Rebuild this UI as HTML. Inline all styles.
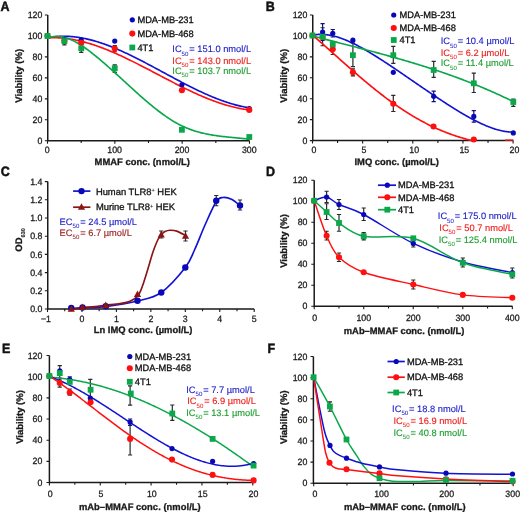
<!DOCTYPE html>
<html><head><meta charset="utf-8"><style>
html,body{margin:0;padding:0;background:#fff;}
svg{display:block;font-family:"Liberation Sans",sans-serif;will-change:transform;filter:blur(0.35px);text-rendering:geometricPrecision;}
</style></head><body>
<svg width="520" height="513" viewBox="0 0 520 513">
<rect width="520" height="513" fill="#fff"/>
<path d="M47.75,15 V140.75 H249.5" stroke="#1a1a1a" stroke-width="1.5" fill="none"/>
<path d="M47.75,140.75 h-2.9 M47.75,119.79 h-2.9 M47.75,98.83 h-2.9 M47.75,77.87 h-2.9 M47.75,56.91 h-2.9 M47.75,35.95 h-2.9 M47.75,14.99 h-2.9 M47.5,140.75 v2.9 M114.83,140.75 v2.9 M182.16,140.75 v2.9 M249.49,140.75 v2.9 M81.16,140.75 v2.32 M148.5,140.75 v2.32 M215.82,140.75 v2.32 " stroke="#1a1a1a" stroke-width="1.1" fill="none"/>
<path d="M312.75,15 V140.6 H513.1" stroke="#1a1a1a" stroke-width="1.5" fill="none"/>
<path d="M312.75,140.6 h-2.9 M312.75,119.67 h-2.9 M312.75,98.73 h-2.9 M312.75,77.8 h-2.9 M312.75,56.86 h-2.9 M312.75,35.93 h-2.9 M312.75,15 h-2.9 M312.5,140.6 v2.9 M362.65,140.6 v2.9 M412.8,140.6 v2.9 M462.95,140.6 v2.9 M513.1,140.6 v2.9 M337.57,140.6 v2.32 M387.73,140.6 v2.32 M437.88,140.6 v2.32 M488.02,140.6 v2.32 " stroke="#1a1a1a" stroke-width="1.1" fill="none"/>
<path d="M47.75,181.6 V309 H254.2" stroke="#1a1a1a" stroke-width="1.5" fill="none"/>
<path d="M47.75,309 h-2.9 M47.75,290.8 h-2.9 M47.75,272.6 h-2.9 M47.75,254.4 h-2.9 M47.75,236.2 h-2.9 M47.75,218 h-2.9 M47.75,199.8 h-2.9 M47.75,181.6 h-2.9 M47.5,309 v2.9 M81.95,309 v2.9 M116.4,309 v2.9 M150.85,309 v2.9 M185.3,309 v2.9 M219.75,309 v2.9 M254.2,309 v2.9 M64.72,309 v2.32 M99.18,309 v2.32 M133.62,309 v2.32 M168.08,309 v2.32 M202.53,309 v2.32 M236.98,309 v2.32 " stroke="#1a1a1a" stroke-width="1.1" fill="none"/>
<path d="M314.2,180.18 V306.3 H512.5" stroke="#1a1a1a" stroke-width="1.5" fill="none"/>
<path d="M314.2,306.3 h-2.9 M314.2,285.28 h-2.9 M314.2,264.26 h-2.9 M314.2,243.24 h-2.9 M314.2,222.22 h-2.9 M314.2,201.2 h-2.9 M314.2,180.18 h-2.9 M314.2,306.3 v2.9 M363.73,306.3 v2.9 M413.26,306.3 v2.9 M462.79,306.3 v2.9 M512.32,306.3 v2.9 M338.96,306.3 v2.32 M388.5,306.3 v2.32 M438.02,306.3 v2.32 M487.56,306.3 v2.32 " stroke="#1a1a1a" stroke-width="1.1" fill="none"/>
<path d="M49.4,355.54 V482.5 H253" stroke="#1a1a1a" stroke-width="1.5" fill="none"/>
<path d="M49.4,482.5 h-2.9 M49.4,461.34 h-2.9 M49.4,440.18 h-2.9 M49.4,419.02 h-2.9 M49.4,397.86 h-2.9 M49.4,376.7 h-2.9 M49.4,355.54 h-2.9 M49.4,482.5 v2.9 M100.25,482.5 v2.9 M151.1,482.5 v2.9 M201.95,482.5 v2.9 M252.8,482.5 v2.9 M74.83,482.5 v2.32 M125.68,482.5 v2.32 M176.53,482.5 v2.32 M227.38,482.5 v2.32 " stroke="#1a1a1a" stroke-width="1.1" fill="none"/>
<path d="M313.4,356.46 V483.3 H513.2" stroke="#1a1a1a" stroke-width="1.5" fill="none"/>
<path d="M313.4,483.3 h-2.9 M313.4,462.16 h-2.9 M313.4,441.02 h-2.9 M313.4,419.88 h-2.9 M313.4,398.74 h-2.9 M313.4,377.6 h-2.9 M313.4,356.46 h-2.9 M313.7,483.3 v2.9 M380.2,483.3 v2.9 M446.7,483.3 v2.9 M513.2,483.3 v2.9 M346.95,483.3 v2.32 M413.45,483.3 v2.32 M479.95,483.3 v2.32 " stroke="#1a1a1a" stroke-width="1.1" fill="none"/>
<path d="M64.4,38 V44.9 M62.3,38 h4.2 M62.3,44.9 h4.2" stroke="#2a2a2a" stroke-width="1.2" fill="none"/>
<path d="M81.25,44.5 V52.4 M79.15,44.5 h4.2 M79.15,52.4 h4.2" stroke="#2a2a2a" stroke-width="1.2" fill="none"/>
<path d="M114.75,45.5 V51.75 M112.65,45.5 h4.2 M112.65,51.75 h4.2" stroke="#2a2a2a" stroke-width="1.2" fill="none"/>
<path d="M114.75,64.9 V72.4 M112.65,64.9 h4.2 M112.65,72.4 h4.2" stroke="#2a2a2a" stroke-width="1.2" fill="none"/>
<path d="M322.6,27.75 V45.75 M320.5,27.75 h4.2 M320.5,45.75 h4.2" stroke="#2a2a2a" stroke-width="1.2" fill="none"/>
<path d="M322.6,23.6 V40.4 M320.5,23.6 h4.2 M320.5,40.4 h4.2" stroke="#10107a" stroke-width="1.2" fill="none"/>
<path d="M332.75,44 V54.5 M330.65,44 h4.2 M330.65,54.5 h4.2" stroke="#2a2a2a" stroke-width="1.2" fill="none"/>
<path d="M332.75,29.5 V37 M330.65,29.5 h4.2 M330.65,37 h4.2" stroke="#10107a" stroke-width="1.2" fill="none"/>
<path d="M352.9,43.1 V66.7 M350.8,43.1 h4.2 M350.8,66.7 h4.2" stroke="#2a2a2a" stroke-width="1.2" fill="none"/>
<path d="M352.9,68.8 V75.8 M350.8,68.8 h4.2 M350.8,75.8 h4.2" stroke="#2a2a2a" stroke-width="1.2" fill="none"/>
<path d="M393.3,46.3 V63.3 M391.2,46.3 h4.2 M391.2,63.3 h4.2" stroke="#2a2a2a" stroke-width="1.2" fill="none"/>
<path d="M393.3,95.4 V111.5 M391.2,95.4 h4.2 M391.2,111.5 h4.2" stroke="#2a2a2a" stroke-width="1.2" fill="none"/>
<path d="M433.7,61.3 V77.3 M431.6,61.3 h4.2 M431.6,77.3 h4.2" stroke="#2a2a2a" stroke-width="1.2" fill="none"/>
<path d="M433.7,91.2 V101.7 M431.6,91.2 h4.2 M431.6,101.7 h4.2" stroke="#10107a" stroke-width="1.2" fill="none"/>
<path d="M473.8,73.2 V92.5 M471.7,73.2 h4.2 M471.7,92.5 h4.2" stroke="#2a2a2a" stroke-width="1.2" fill="none"/>
<path d="M473.8,110.7 V122.2 M471.7,110.7 h4.2 M471.7,122.2 h4.2" stroke="#10107a" stroke-width="1.2" fill="none"/>
<path d="M513.3,99 V106.3 M511.2,99 h4.2 M511.2,106.3 h4.2" stroke="#2a2a2a" stroke-width="1.2" fill="none"/>
<path d="M216.25,195.5 V205.75 M214.15,195.5 h4.2 M214.15,205.75 h4.2" stroke="#2a2a2a" stroke-width="1.2" fill="none"/>
<path d="M240,200 V210 M237.9,200 h4.2 M237.9,210 h4.2" stroke="#2a2a2a" stroke-width="1.2" fill="none"/>
<path d="M161.25,231 V238 M159.15,231 h4.2 M159.15,238 h4.2" stroke="#2a2a2a" stroke-width="1.2" fill="none"/>
<path d="M185.5,231 V241 M183.4,231 h4.2 M183.4,241 h4.2" stroke="#2a2a2a" stroke-width="1.2" fill="none"/>
<path d="M326.6,191.25 V202.5 M324.5,191.25 h4.2 M324.5,202.5 h4.2" stroke="#2a2a2a" stroke-width="1.2" fill="none"/>
<path d="M339,199.5 V209.5 M336.9,199.5 h4.2 M336.9,209.5 h4.2" stroke="#2a2a2a" stroke-width="1.2" fill="none"/>
<path d="M363.7,208 V220.5 M361.6,208 h4.2 M361.6,220.5 h4.2" stroke="#2a2a2a" stroke-width="1.2" fill="none"/>
<path d="M326.6,203.75 V219.5 M324.5,203.75 h4.2 M324.5,219.5 h4.2" stroke="#2a2a2a" stroke-width="1.2" fill="none"/>
<path d="M339,214.5 V231.25 M336.9,214.5 h4.2 M336.9,231.25 h4.2" stroke="#2a2a2a" stroke-width="1.2" fill="none"/>
<path d="M326.6,231.25 V240 M324.5,231.25 h4.2 M324.5,240 h4.2" stroke="#2a2a2a" stroke-width="1.2" fill="none"/>
<path d="M339,253 V261.5 M336.9,253 h4.2 M336.9,261.5 h4.2" stroke="#2a2a2a" stroke-width="1.2" fill="none"/>
<path d="M413.3,280 V289 M411.2,280 h4.2 M411.2,289 h4.2" stroke="#2a2a2a" stroke-width="1.2" fill="none"/>
<path d="M413.3,240 V247 M411.2,240 h4.2 M411.2,247 h4.2" stroke="#2a2a2a" stroke-width="1.2" fill="none"/>
<path d="M363.7,232.6 V239.8 M361.6,232.6 h4.2 M361.6,239.8 h4.2" stroke="#2a2a2a" stroke-width="1.2" fill="none"/>
<path d="M462.8,258 V267 M460.7,258 h4.2 M460.7,267 h4.2" stroke="#2a2a2a" stroke-width="1.2" fill="none"/>
<path d="M512.3,268 V278 M510.2,268 h4.2 M510.2,278 h4.2" stroke="#2a2a2a" stroke-width="1.2" fill="none"/>
<path d="M59.75,365.7 V380 M57.65,365.7 h4.2 M57.65,380 h4.2" stroke="#2a2a2a" stroke-width="1.2" fill="none"/>
<path d="M59.75,378 V387.1 M57.65,378 h4.2 M57.65,387.1 h4.2" stroke="#2a2a2a" stroke-width="1.2" fill="none"/>
<path d="M69.75,376.8 V382 M67.65,376.8 h4.2 M67.65,382 h4.2" stroke="#10107a" stroke-width="1.2" fill="none"/>
<path d="M69.75,389 V395.1 M67.65,389 h4.2 M67.65,395.1 h4.2" stroke="#2a2a2a" stroke-width="1.2" fill="none"/>
<path d="M90.3,379.3 V400 M88.2,379.3 h4.2 M88.2,400 h4.2" stroke="#2a2a2a" stroke-width="1.2" fill="none"/>
<path d="M130.1,385.8 V405.2 M128,385.8 h4.2 M128,405.2 h4.2" stroke="#2a2a2a" stroke-width="1.2" fill="none"/>
<path d="M130.1,421 V455 M128,421 h4.2 M128,455 h4.2" stroke="#2a2a2a" stroke-width="1.2" fill="none"/>
<path d="M130.1,419 V425.4 M128,419 h4.2 M128,425.4 h4.2" stroke="#10107a" stroke-width="1.2" fill="none"/>
<path d="M172.3,405 V420.3 M170.2,405 h4.2 M170.2,420.3 h4.2" stroke="#2a2a2a" stroke-width="1.2" fill="none"/>
<path d="M329.9,401.9 V411.25 M327.8,401.9 h4.2 M327.8,411.25 h4.2" stroke="#2a2a2a" stroke-width="1.2" fill="none"/>
<path d="M47.5,37.9 L48.5,37.7 L49.5,37.52 L50.5,37.35 L51.5,37.2 L52.5,37.05 L53.5,36.92 L54.5,36.81 L55.5,36.7 L56.5,36.61 L57.5,36.52 L58.5,36.45 L59.5,36.4 L60.5,36.35 L61.5,36.32 L62.5,36.29 L63.5,36.28 L64.5,36.28 L65.5,36.29 L66.5,36.31 L67.5,36.35 L68.5,36.39 L69.5,36.44 L70.5,36.51 L71.5,36.58 L72.5,36.67 L73.5,36.76 L74.5,36.87 L75.5,36.98 L76.5,37.11 L77.5,37.24 L78.5,37.39 L79.5,37.54 L80.5,37.71 L81.5,37.88 L82.5,38.06 L83.5,38.25 L84.5,38.45 L85.5,38.66 L86.5,38.88 L87.5,39.1 L88.5,39.34 L89.5,39.58 L90.5,39.83 L91.5,40.09 L92.5,40.36 L93.5,40.63 L94.5,40.91 L95.5,41.2 L96.5,41.5 L97.5,41.81 L98.5,42.12 L99.5,42.44 L100.5,42.77 L101.5,43.1 L102.5,43.44 L103.5,43.79 L104.5,44.14 L105.5,44.5 L106.5,44.87 L107.5,45.24 L108.5,45.62 L109.5,46 L110.5,46.39 L111.5,46.79 L112.5,47.19 L113.5,47.6 L114.5,48.01 L115.5,48.43 L116.5,48.85 L117.5,49.28 L118.5,49.71 L119.5,50.15 L120.5,50.6 L121.5,51.04 L122.5,51.49 L123.5,51.95 L124.5,52.41 L125.5,52.88 L126.5,53.34 L127.5,53.82 L128.5,54.29 L129.5,54.77 L130.5,55.26 L131.5,55.74 L132.5,56.23 L133.5,56.73 L134.5,57.22 L135.5,57.72 L136.5,58.23 L137.5,58.73 L138.5,59.24 L139.5,59.75 L140.5,60.26 L141.5,60.78 L142.5,61.3 L143.5,61.82 L144.5,62.34 L145.5,62.86 L146.5,63.39 L147.5,63.91 L148.5,64.44 L149.5,64.97 L150.5,65.5 L151.5,66.04 L152.5,66.57 L153.5,67.11 L154.5,67.64 L155.5,68.18 L156.5,68.72 L157.5,69.26 L158.5,69.8 L159.5,70.34 L160.5,70.88 L161.5,71.42 L162.5,71.96 L163.5,72.5 L164.5,73.04 L165.5,73.58 L166.5,74.12 L167.5,74.66 L168.5,75.2 L169.5,75.74 L170.5,76.28 L171.5,76.82 L172.5,77.35 L173.5,77.89 L174.5,78.42 L175.5,78.96 L176.5,79.49 L177.5,80.02 L178.5,80.55 L179.5,81.08 L180.5,81.6 L181.5,82.13 L182.5,82.65 L183.5,83.17 L184.5,83.69 L185.5,84.2 L186.5,84.72 L187.5,85.23 L188.5,85.74 L189.5,86.24 L190.5,86.75 L191.5,87.25 L192.5,87.74 L193.5,88.24 L194.5,88.73 L195.5,89.22 L196.5,89.7 L197.5,90.18 L198.5,90.66 L199.5,91.13 L200.5,91.6 L201.5,92.07 L202.5,92.53 L203.5,92.99 L204.5,93.44 L205.5,93.89 L206.5,94.34 L207.5,94.78 L208.5,95.22 L209.5,95.65 L210.5,96.07 L211.5,96.49 L212.5,96.91 L213.5,97.32 L214.5,97.73 L215.5,98.13 L216.5,98.52 L217.5,98.91 L218.5,99.3 L219.5,99.68 L220.5,100.05 L221.5,100.42 L222.5,100.78 L223.5,101.13 L224.5,101.48 L225.5,101.82 L226.5,102.15 L227.5,102.48 L228.5,102.8 L229.5,103.12 L230.5,103.43 L231.5,103.73 L232.5,104.02 L233.5,104.31 L234.5,104.59 L235.5,104.86 L236.5,105.12 L237.5,105.38 L238.5,105.63 L239.5,105.87 L240.5,106.1 L241.5,106.33 L242.5,106.55 L243.5,106.76 L244.5,106.96 L245.5,107.15 L246.5,107.33 L247.5,107.51 L248.5,107.67 L249.5,107.83" fill="none" stroke="#1212d6" stroke-width="1.65" stroke-linejoin="round" stroke-linecap="round"/>
<path d="M47.5,37.84 L48.5,37.79 L49.5,37.74 L50.5,37.71 L51.5,37.68 L52.5,37.67 L53.5,37.67 L54.5,37.68 L55.5,37.69 L56.5,37.72 L57.5,37.76 L58.5,37.81 L59.5,37.86 L60.5,37.93 L61.5,38 L62.5,38.09 L63.5,38.18 L64.5,38.29 L65.5,38.4 L66.5,38.52 L67.5,38.65 L68.5,38.79 L69.5,38.93 L70.5,39.09 L71.5,39.25 L72.5,39.43 L73.5,39.61 L74.5,39.8 L75.5,39.99 L76.5,40.2 L77.5,40.41 L78.5,40.63 L79.5,40.86 L80.5,41.1 L81.5,41.34 L82.5,41.59 L83.5,41.85 L84.5,42.11 L85.5,42.39 L86.5,42.67 L87.5,42.95 L88.5,43.24 L89.5,43.54 L90.5,43.85 L91.5,44.16 L92.5,44.48 L93.5,44.81 L94.5,45.14 L95.5,45.48 L96.5,45.82 L97.5,46.17 L98.5,46.53 L99.5,46.89 L100.5,47.25 L101.5,47.63 L102.5,48 L103.5,48.39 L104.5,48.77 L105.5,49.17 L106.5,49.57 L107.5,49.97 L108.5,50.38 L109.5,50.79 L110.5,51.21 L111.5,51.63 L112.5,52.06 L113.5,52.49 L114.5,52.92 L115.5,53.36 L116.5,53.81 L117.5,54.25 L118.5,54.7 L119.5,55.16 L120.5,55.62 L121.5,56.08 L122.5,56.55 L123.5,57.02 L124.5,57.49 L125.5,57.96 L126.5,58.44 L127.5,58.92 L128.5,59.41 L129.5,59.9 L130.5,60.39 L131.5,60.88 L132.5,61.37 L133.5,61.87 L134.5,62.37 L135.5,62.87 L136.5,63.38 L137.5,63.88 L138.5,64.39 L139.5,64.9 L140.5,65.41 L141.5,65.93 L142.5,66.44 L143.5,66.96 L144.5,67.48 L145.5,67.99 L146.5,68.52 L147.5,69.04 L148.5,69.56 L149.5,70.08 L150.5,70.6 L151.5,71.13 L152.5,71.65 L153.5,72.18 L154.5,72.7 L155.5,73.23 L156.5,73.76 L157.5,74.28 L158.5,74.81 L159.5,75.33 L160.5,75.86 L161.5,76.39 L162.5,76.91 L163.5,77.44 L164.5,77.96 L165.5,78.48 L166.5,79.01 L167.5,79.53 L168.5,80.05 L169.5,80.57 L170.5,81.08 L171.5,81.6 L172.5,82.12 L173.5,82.63 L174.5,83.14 L175.5,83.65 L176.5,84.16 L177.5,84.67 L178.5,85.18 L179.5,85.68 L180.5,86.18 L181.5,86.68 L182.5,87.17 L183.5,87.67 L184.5,88.16 L185.5,88.65 L186.5,89.13 L187.5,89.62 L188.5,90.1 L189.5,90.57 L190.5,91.05 L191.5,91.52 L192.5,91.99 L193.5,92.45 L194.5,92.91 L195.5,93.37 L196.5,93.82 L197.5,94.27 L198.5,94.71 L199.5,95.16 L200.5,95.59 L201.5,96.03 L202.5,96.45 L203.5,96.88 L204.5,97.3 L205.5,97.71 L206.5,98.12 L207.5,98.53 L208.5,98.93 L209.5,99.32 L210.5,99.72 L211.5,100.1 L212.5,100.48 L213.5,100.86 L214.5,101.22 L215.5,101.59 L216.5,101.95 L217.5,102.3 L218.5,102.64 L219.5,102.98 L220.5,103.32 L221.5,103.65 L222.5,103.97 L223.5,104.28 L224.5,104.59 L225.5,104.9 L226.5,105.19 L227.5,105.48 L228.5,105.76 L229.5,106.04 L230.5,106.31 L231.5,106.57 L232.5,106.82 L233.5,107.07 L234.5,107.31 L235.5,107.54 L236.5,107.76 L237.5,107.98 L238.5,108.19 L239.5,108.39 L240.5,108.58 L241.5,108.77 L242.5,108.94 L243.5,109.11 L244.5,109.27 L245.5,109.42 L246.5,109.56 L247.5,109.7 L248.5,109.82 L249.5,109.94" fill="none" stroke="#ff1010" stroke-width="1.65" stroke-linejoin="round" stroke-linecap="round"/>
<path d="M47.5,38.11 L48.5,37.75 L49.5,37.44 L50.5,37.17 L51.5,36.95 L52.5,36.76 L53.5,36.62 L54.5,36.51 L55.5,36.44 L56.5,36.41 L57.5,36.42 L58.5,36.46 L59.5,36.54 L60.5,36.65 L61.5,36.8 L62.5,36.97 L63.5,37.18 L64.5,37.43 L65.5,37.7 L66.5,38 L67.5,38.33 L68.5,38.69 L69.5,39.07 L70.5,39.48 L71.5,39.92 L72.5,40.38 L73.5,40.87 L74.5,41.37 L75.5,41.9 L76.5,42.46 L77.5,43.03 L78.5,43.62 L79.5,44.23 L80.5,44.86 L81.5,45.51 L82.5,46.17 L83.5,46.85 L84.5,47.54 L85.5,48.25 L86.5,48.97 L87.5,49.7 L88.5,50.45 L89.5,51.2 L90.5,51.97 L91.5,52.74 L92.5,53.53 L93.5,54.32 L94.5,55.12 L95.5,55.93 L96.5,56.74 L97.5,57.56 L98.5,58.39 L99.5,59.22 L100.5,60.07 L101.5,60.91 L102.5,61.77 L103.5,62.63 L104.5,63.49 L105.5,64.36 L106.5,65.23 L107.5,66.11 L108.5,67 L109.5,67.88 L110.5,68.77 L111.5,69.67 L112.5,70.57 L113.5,71.47 L114.5,72.37 L115.5,73.28 L116.5,74.18 L117.5,75.1 L118.5,76.01 L119.5,76.92 L120.5,77.84 L121.5,78.75 L122.5,79.67 L123.5,80.59 L124.5,81.5 L125.5,82.42 L126.5,83.34 L127.5,84.26 L128.5,85.17 L129.5,86.09 L130.5,87 L131.5,87.92 L132.5,88.83 L133.5,89.73 L134.5,90.64 L135.5,91.55 L136.5,92.45 L137.5,93.34 L138.5,94.24 L139.5,95.13 L140.5,96.02 L141.5,96.9 L142.5,97.78 L143.5,98.65 L144.5,99.52 L145.5,100.39 L146.5,101.24 L147.5,102.1 L148.5,102.94 L149.5,103.78 L150.5,104.62 L151.5,105.44 L152.5,106.26 L153.5,107.07 L154.5,107.88 L155.5,108.67 L156.5,109.46 L157.5,110.24 L158.5,111.01 L159.5,111.77 L160.5,112.52 L161.5,113.27 L162.5,114 L163.5,114.72 L164.5,115.43 L165.5,116.13 L166.5,116.82 L167.5,117.5 L168.5,118.17 L169.5,118.83 L170.5,119.47 L171.5,120.1 L172.5,120.72 L173.5,121.33 L174.5,121.92 L175.5,122.5 L176.5,123.07 L177.5,123.62 L178.5,124.15 L179.5,124.68 L180.5,125.19 L181.5,125.68 L182.5,126.16 L183.5,126.62 L184.5,127.07 L185.5,127.51 L186.5,127.93 L187.5,128.34 L188.5,128.74 L189.5,129.12 L190.5,129.49 L191.5,129.85 L192.5,130.2 L193.5,130.54 L194.5,130.86 L195.5,131.18 L196.5,131.48 L197.5,131.77 L198.5,132.05 L199.5,132.32 L200.5,132.59 L201.5,132.84 L202.5,133.08 L203.5,133.32 L204.5,133.54 L205.5,133.76 L206.5,133.97 L207.5,134.17 L208.5,134.37 L209.5,134.56 L210.5,134.74 L211.5,134.91 L212.5,135.08 L213.5,135.24 L214.5,135.39 L215.5,135.54 L216.5,135.69 L217.5,135.83 L218.5,135.96 L219.5,136.09 L220.5,136.22 L221.5,136.34 L222.5,136.46 L223.5,136.57 L224.5,136.68 L225.5,136.79 L226.5,136.9 L227.5,137 L228.5,137.1 L229.5,137.2 L230.5,137.3 L231.5,137.39 L232.5,137.49 L233.5,137.59 L234.5,137.68 L235.5,137.78 L236.5,137.87 L237.5,137.96 L238.5,138.06 L239.5,138.16 L240.5,138.26 L241.5,138.35 L242.5,138.46 L243.5,138.56 L244.5,138.66 L245.5,138.77 L246.5,138.88 L247.5,139 L248.5,139.12 L249.5,139.24" fill="none" stroke="#0aa84a" stroke-width="1.65" stroke-linejoin="round" stroke-linecap="round"/>
<path d="M312.5,35.25 L313.5,35.05 L314.5,34.88 L315.5,34.73 L316.5,34.61 L317.5,34.51 L318.5,34.44 L319.5,34.4 L320.5,34.37 L321.5,34.38 L322.5,34.4 L323.5,34.44 L324.5,34.51 L325.5,34.6 L326.5,34.7 L327.5,34.83 L328.5,34.98 L329.5,35.14 L330.5,35.33 L331.5,35.53 L332.5,35.75 L333.5,35.98 L334.5,36.23 L335.5,36.5 L336.5,36.78 L337.5,37.08 L338.5,37.4 L339.5,37.72 L340.5,38.06 L341.5,38.42 L342.5,38.78 L343.5,39.16 L344.5,39.55 L345.5,39.96 L346.5,40.37 L347.5,40.8 L348.5,41.23 L349.5,41.68 L350.5,42.14 L351.5,42.61 L352.5,43.08 L353.5,43.57 L354.5,44.06 L355.5,44.57 L356.5,45.08 L357.5,45.6 L358.5,46.13 L359.5,46.66 L360.5,47.2 L361.5,47.75 L362.5,48.31 L363.5,48.87 L364.5,49.44 L365.5,50.01 L366.5,50.6 L367.5,51.18 L368.5,51.77 L369.5,52.37 L370.5,52.97 L371.5,53.58 L372.5,54.19 L373.5,54.81 L374.5,55.43 L375.5,56.05 L376.5,56.68 L377.5,57.31 L378.5,57.94 L379.5,58.58 L380.5,59.23 L381.5,59.87 L382.5,60.52 L383.5,61.17 L384.5,61.82 L385.5,62.48 L386.5,63.14 L387.5,63.8 L388.5,64.46 L389.5,65.13 L390.5,65.8 L391.5,66.46 L392.5,67.14 L393.5,67.81 L394.5,68.48 L395.5,69.16 L396.5,69.83 L397.5,70.51 L398.5,71.19 L399.5,71.87 L400.5,72.55 L401.5,73.24 L402.5,73.92 L403.5,74.6 L404.5,75.29 L405.5,75.97 L406.5,76.66 L407.5,77.34 L408.5,78.03 L409.5,78.72 L410.5,79.4 L411.5,80.09 L412.5,80.78 L413.5,81.47 L414.5,82.15 L415.5,82.84 L416.5,83.53 L417.5,84.21 L418.5,84.9 L419.5,85.58 L420.5,86.27 L421.5,86.95 L422.5,87.64 L423.5,88.32 L424.5,89 L425.5,89.69 L426.5,90.37 L427.5,91.05 L428.5,91.73 L429.5,92.4 L430.5,93.08 L431.5,93.76 L432.5,94.43 L433.5,95.1 L434.5,95.78 L435.5,96.45 L436.5,97.11 L437.5,97.78 L438.5,98.45 L439.5,99.11 L440.5,99.77 L441.5,100.43 L442.5,101.09 L443.5,101.74 L444.5,102.39 L445.5,103.04 L446.5,103.69 L447.5,104.34 L448.5,104.98 L449.5,105.62 L450.5,106.25 L451.5,106.89 L452.5,107.52 L453.5,108.14 L454.5,108.77 L455.5,109.39 L456.5,110 L457.5,110.62 L458.5,111.22 L459.5,111.83 L460.5,112.43 L461.5,113.02 L462.5,113.61 L463.5,114.2 L464.5,114.78 L465.5,115.36 L466.5,115.93 L467.5,116.49 L468.5,117.05 L469.5,117.61 L470.5,118.15 L471.5,118.7 L472.5,119.23 L473.5,119.76 L474.5,120.28 L475.5,120.79 L476.5,121.3 L477.5,121.8 L478.5,122.29 L479.5,122.77 L480.5,123.25 L481.5,123.72 L482.5,124.17 L483.5,124.62 L484.5,125.06 L485.5,125.49 L486.5,125.91 L487.5,126.32 L488.5,126.71 L489.5,127.1 L490.5,127.48 L491.5,127.84 L492.5,128.19 L493.5,128.53 L494.5,128.86 L495.5,129.17 L496.5,129.47 L497.5,129.76 L498.5,130.03 L499.5,130.29 L500.5,130.53 L501.5,130.76 L502.5,130.97 L503.5,131.17 L504.5,131.34 L505.5,131.51 L506.5,131.65 L507.5,131.78 L508.5,131.88 L509.5,131.97 L510.5,132.04 L511.5,132.09 L512.5,132.11 L513.3,132.12" fill="none" stroke="#1212d6" stroke-width="1.65" stroke-linejoin="round" stroke-linecap="round"/>
<path d="M312.5,35.98 L313.5,36.24 L314.5,36.5 L315.5,36.76 L316.5,37.02 L317.5,37.28 L318.5,37.54 L319.5,37.79 L320.5,38.05 L321.5,38.31 L322.5,38.57 L323.5,38.83 L324.5,39.08 L325.5,39.34 L326.5,39.6 L327.5,39.85 L328.5,40.11 L329.5,40.37 L330.5,40.62 L331.5,40.88 L332.5,41.14 L333.5,41.39 L334.5,41.65 L335.5,41.91 L336.5,42.16 L337.5,42.42 L338.5,42.68 L339.5,42.93 L340.5,43.19 L341.5,43.45 L342.5,43.7 L343.5,43.96 L344.5,44.22 L345.5,44.47 L346.5,44.73 L347.5,44.99 L348.5,45.25 L349.5,45.5 L350.5,45.76 L351.5,46.02 L352.5,46.28 L353.5,46.54 L354.5,46.8 L355.5,47.06 L356.5,47.32 L357.5,47.58 L358.5,47.84 L359.5,48.1 L360.5,48.36 L361.5,48.62 L362.5,48.88 L363.5,49.14 L364.5,49.41 L365.5,49.67 L366.5,49.93 L367.5,50.2 L368.5,50.46 L369.5,50.73 L370.5,50.99 L371.5,51.26 L372.5,51.52 L373.5,51.79 L374.5,52.06 L375.5,52.33 L376.5,52.6 L377.5,52.87 L378.5,53.14 L379.5,53.41 L380.5,53.68 L381.5,53.95 L382.5,54.22 L383.5,54.5 L384.5,54.77 L385.5,55.05 L386.5,55.32 L387.5,55.6 L388.5,55.88 L389.5,56.15 L390.5,56.43 L391.5,56.71 L392.5,56.99 L393.5,57.27 L394.5,57.56 L395.5,57.84 L396.5,58.12 L397.5,58.41 L398.5,58.7 L399.5,58.98 L400.5,59.27 L401.5,59.56 L402.5,59.85 L403.5,60.14 L404.5,60.43 L405.5,60.73 L406.5,61.02 L407.5,61.31 L408.5,61.61 L409.5,61.91 L410.5,62.21 L411.5,62.51 L412.5,62.81 L413.5,63.11 L414.5,63.41 L415.5,63.72 L416.5,64.02 L417.5,64.33 L418.5,64.64 L419.5,64.95 L420.5,65.26 L421.5,65.57 L422.5,65.88 L423.5,66.19 L424.5,66.51 L425.5,66.83 L426.5,67.15 L427.5,67.47 L428.5,67.79 L429.5,68.11 L430.5,68.43 L431.5,68.76 L432.5,69.09 L433.5,69.41 L434.5,69.74 L435.5,70.07 L436.5,70.41 L437.5,70.74 L438.5,71.08 L439.5,71.42 L440.5,71.75 L441.5,72.09 L442.5,72.44 L443.5,72.78 L444.5,73.13 L445.5,73.47 L446.5,73.82 L447.5,74.17 L448.5,74.52 L449.5,74.88 L450.5,75.23 L451.5,75.59 L452.5,75.95 L453.5,76.31 L454.5,76.67 L455.5,77.04 L456.5,77.4 L457.5,77.77 L458.5,78.14 L459.5,78.51 L460.5,78.89 L461.5,79.26 L462.5,79.64 L463.5,80.02 L464.5,80.4 L465.5,80.78 L466.5,81.17 L467.5,81.55 L468.5,81.94 L469.5,82.33 L470.5,82.73 L471.5,83.12 L472.5,83.52 L473.5,83.92 L474.5,84.32 L475.5,84.72 L476.5,85.13 L477.5,85.54 L478.5,85.95 L479.5,86.36 L480.5,86.77 L481.5,87.19 L482.5,87.61 L483.5,88.03 L484.5,88.45 L485.5,88.88 L486.5,89.3 L487.5,89.73 L488.5,90.16 L489.5,90.6 L490.5,91.04 L491.5,91.47 L492.5,91.92 L493.5,92.36 L494.5,92.81 L495.5,93.25 L496.5,93.7 L497.5,94.16 L498.5,94.61 L499.5,95.07 L500.5,95.53 L501.5,96 L502.5,96.46 L503.5,96.93 L504.5,97.4 L505.5,97.87 L506.5,98.35 L507.5,98.83 L508.5,99.31 L509.5,99.79 L510.5,100.28 L511.5,100.77 L512.5,101.26 L513.3,101.65" fill="none" stroke="#0aa84a" stroke-width="1.65" stroke-linejoin="round" stroke-linecap="round"/>
<path d="M312.5,35.09 L313.5,35.96 L314.5,36.82 L315.5,37.69 L316.5,38.56 L317.5,39.43 L318.5,40.31 L319.5,41.19 L320.5,42.07 L321.5,42.95 L322.5,43.83 L323.5,44.72 L324.5,45.61 L325.5,46.5 L326.5,47.39 L327.5,48.28 L328.5,49.17 L329.5,50.06 L330.5,50.95 L331.5,51.85 L332.5,52.74 L333.5,53.63 L334.5,54.53 L335.5,55.42 L336.5,56.32 L337.5,57.21 L338.5,58.1 L339.5,59 L340.5,59.89 L341.5,60.78 L342.5,61.67 L343.5,62.56 L344.5,63.45 L345.5,64.33 L346.5,65.22 L347.5,66.1 L348.5,66.98 L349.5,67.86 L350.5,68.74 L351.5,69.62 L352.5,70.49 L353.5,71.36 L354.5,72.23 L355.5,73.1 L356.5,73.97 L357.5,74.83 L358.5,75.69 L359.5,76.54 L360.5,77.4 L361.5,78.25 L362.5,79.1 L363.5,79.94 L364.5,80.78 L365.5,81.62 L366.5,82.46 L367.5,83.29 L368.5,84.11 L369.5,84.94 L370.5,85.76 L371.5,86.57 L372.5,87.39 L373.5,88.19 L374.5,89 L375.5,89.8 L376.5,90.59 L377.5,91.38 L378.5,92.17 L379.5,92.95 L380.5,93.73 L381.5,94.5 L382.5,95.27 L383.5,96.03 L384.5,96.79 L385.5,97.55 L386.5,98.29 L387.5,99.04 L388.5,99.78 L389.5,100.51 L390.5,101.24 L391.5,101.96 L392.5,102.68 L393.5,103.39 L394.5,104.1 L395.5,104.8 L396.5,105.5 L397.5,106.19 L398.5,106.87 L399.5,107.55 L400.5,108.22 L401.5,108.89 L402.5,109.55 L403.5,110.21 L404.5,110.86 L405.5,111.51 L406.5,112.15 L407.5,112.78 L408.5,113.4 L409.5,114.03 L410.5,114.64 L411.5,115.25 L412.5,115.85 L413.5,116.45 L414.5,117.04 L415.5,117.62 L416.5,118.2 L417.5,118.77 L418.5,119.34 L419.5,119.9 L420.5,120.45 L421.5,121 L422.5,121.54 L423.5,122.07 L424.5,122.6 L425.5,123.12 L426.5,123.64 L427.5,124.15 L428.5,124.65 L429.5,125.15 L430.5,125.64 L431.5,126.12 L432.5,126.6 L433.5,127.07 L434.5,127.54 L435.5,127.99 L436.5,128.45 L437.5,128.89 L438.5,129.33 L439.5,129.77 L440.5,130.19 L441.5,130.62 L442.5,131.03 L443.5,131.44 L444.5,131.84 L445.5,132.24 L446.5,132.63 L447.5,133.01 L448.5,133.39 L449.5,133.76 L450.5,134.13 L451.5,134.49 L452.5,134.84 L453.5,135.19 L454.5,135.53 L455.5,135.87 L456.5,136.2 L457.5,136.52 L458.5,136.84 L459.5,137.15 L460.5,137.46 L461.5,137.76 L462.5,138.05 L463.5,138.34 L464.5,138.63 L465.5,138.91 L466.5,139.18 L467.5,139.45 L468.5,139.71 L469.5,139.97 L470.5,140.22 L471.5,140.47 L472.5,140.71 L473.5,140.95 L473.8,141.02" fill="none" stroke="#ff1010" stroke-width="1.65" stroke-linejoin="round" stroke-linecap="round"/>
<path d="M505,140.1 H513.6" stroke="#ff1010" stroke-width="1.3"/>
<path d="M71.25,308.6 C73.12,308.48 76.75,308.23 82.5,307.9 C88.25,307.57 96.58,307.75 105.75,306.6 C114.92,305.45 128.25,303.35 137.5,301 C146.75,298.65 153.28,298.08 161.25,292.5 C169.22,286.92 179.76,274.58 185.3,267.5 C190.84,260.42 191.22,257.08 194.5,250 C197.78,242.92 201.38,233.08 205,225 C208.62,216.92 213.25,206.08 216.25,201.5 C219.25,196.92 220.38,197.83 223,197.5 C225.62,197.17 229.17,198.17 232,199.5 C234.83,200.83 238.67,204.5 240,205.5" fill="none" stroke="#1212d6" stroke-width="1.65" stroke-linejoin="round" stroke-linecap="round"/>
<path d="M71.25,309 C73.12,308.77 78.54,308 82.5,307.6 C86.46,307.2 91.12,307 95,306.6 C98.88,306.2 101.58,305.7 105.75,305.2 C109.92,304.7 115.96,304.25 120,303.6 C124.04,302.95 127.05,302.57 130,301.3 C132.95,300.03 135.85,297.95 137.7,296 C139.55,294.05 140.05,292.02 141.1,289.6 C142.15,287.18 143.03,284.38 144,281.5 C144.97,278.62 145.9,275.58 146.9,272.3 C147.9,269.02 148.92,265.38 150,261.8 C151.08,258.22 152.07,254.52 153.4,250.8 C154.73,247.08 156.63,242.23 158,239.5 C159.37,236.77 160.43,235.72 161.6,234.4 C162.77,233.08 163.63,232.28 165,231.6 C166.37,230.92 167.83,230.38 169.8,230.3 C171.77,230.22 174.18,230.23 176.8,231.1 C179.42,231.97 184.05,234.77 185.5,235.5" fill="none" stroke="#8c1414" stroke-width="1.65" stroke-linejoin="round" stroke-linecap="round"/>
<path d="M73.1,191.1 H90.4" stroke="#1212d6" stroke-width="1.7"/>
<path d="M73.1,207.2 H90.4" stroke="#8c1414" stroke-width="1.7"/>
<path d="M314.2,200.75 C316.27,200.12 322.47,196.38 326.6,197 C330.73,197.62 332.82,201.58 339,204.5 C345.18,207.42 351.32,208.02 363.7,214.5 C376.08,220.98 396.78,235.48 413.3,243.4 C429.82,251.32 446.3,257.13 462.8,262 C479.3,266.87 504.05,270.83 512.3,272.6" fill="none" stroke="#1212d6" stroke-width="1.45" stroke-linejoin="round" stroke-linecap="round"/>
<path d="M314.2,200.75 C316.27,202.62 322.47,208.29 326.6,212 C330.73,215.71 332.82,218.96 339,223 C345.18,227.04 351.32,233.7 363.7,236.25 C376.08,238.8 396.78,233.88 413.3,238.3 C429.82,242.73 446.3,256.8 462.8,262.8 C479.3,268.8 504.05,272.38 512.3,274.3" fill="none" stroke="#0aa84a" stroke-width="1.45" stroke-linejoin="round" stroke-linecap="round"/>
<path d="M314.2,200.75 C316.27,206.59 322.47,226.39 326.6,235.8 C330.73,245.21 332.82,251.13 339,257.2 C345.18,263.27 351.32,267.65 363.7,272.2 C376.08,276.75 396.78,280.72 413.3,284.5 C429.82,288.28 446.3,292.7 462.8,294.9 C479.3,297.1 504.05,297.23 512.3,297.7" fill="none" stroke="#ff1010" stroke-width="1.45" stroke-linejoin="round" stroke-linecap="round"/>
<path d="M378,185.2 H396" stroke="#1212d6" stroke-width="1.7"/>
<path d="M378,197.3 H396" stroke="#ff1010" stroke-width="1.7"/>
<path d="M378,209.7 H396" stroke="#0aa84a" stroke-width="1.7"/>
<path d="M49.4,377.19 L50.4,377.25 L51.4,377.33 L52.4,377.4 L53.4,377.48 L54.4,377.57 L55.4,377.66 L56.4,377.75 L57.4,377.85 L58.4,377.96 L59.4,378.06 L60.4,378.17 L61.4,378.29 L62.4,378.41 L63.4,378.53 L64.4,378.66 L65.4,378.79 L66.4,378.93 L67.4,379.07 L68.4,379.22 L69.4,379.37 L70.4,379.52 L71.4,379.68 L72.4,379.84 L73.4,380.01 L74.4,380.18 L75.4,380.35 L76.4,380.53 L77.4,380.71 L78.4,380.9 L79.4,381.09 L80.4,381.29 L81.4,381.48 L82.4,381.69 L83.4,381.89 L84.4,382.11 L85.4,382.32 L86.4,382.54 L87.4,382.76 L88.4,382.99 L89.4,383.22 L90.4,383.46 L91.4,383.69 L92.4,383.94 L93.4,384.18 L94.4,384.44 L95.4,384.69 L96.4,384.95 L97.4,385.21 L98.4,385.48 L99.4,385.75 L100.4,386.02 L101.4,386.3 L102.4,386.58 L103.4,386.87 L104.4,387.16 L105.4,387.45 L106.4,387.75 L107.4,388.05 L108.4,388.35 L109.4,388.66 L110.4,388.97 L111.4,389.29 L112.4,389.61 L113.4,389.93 L114.4,390.26 L115.4,390.59 L116.4,390.92 L117.4,391.26 L118.4,391.6 L119.4,391.95 L120.4,392.29 L121.4,392.65 L122.4,393 L123.4,393.36 L124.4,393.73 L125.4,394.09 L126.4,394.46 L127.4,394.84 L128.4,395.22 L129.4,395.6 L130.4,395.98 L131.4,396.37 L132.4,396.76 L133.4,397.16 L134.4,397.55 L135.4,397.96 L136.4,398.36 L137.4,398.77 L138.4,399.18 L139.4,399.6 L140.4,400.02 L141.4,400.44 L142.4,400.87 L143.4,401.3 L144.4,401.73 L145.4,402.17 L146.4,402.61 L147.4,403.05 L148.4,403.5 L149.4,403.95 L150.4,404.4 L151.4,404.86 L152.4,405.32 L153.4,405.78 L154.4,406.25 L155.4,406.71 L156.4,407.19 L157.4,407.66 L158.4,408.14 L159.4,408.63 L160.4,409.11 L161.4,409.6 L162.4,410.09 L163.4,410.59 L164.4,411.09 L165.4,411.59 L166.4,412.09 L167.4,412.6 L168.4,413.11 L169.4,413.62 L170.4,414.14 L171.4,414.66 L172.4,415.19 L173.4,415.71 L174.4,416.24 L175.4,416.77 L176.4,417.31 L177.4,417.85 L178.4,418.39 L179.4,418.93 L180.4,419.48 L181.4,420.03 L182.4,420.59 L183.4,421.14 L184.4,421.7 L185.4,422.26 L186.4,422.83 L187.4,423.4 L188.4,423.97 L189.4,424.54 L190.4,425.12 L191.4,425.7 L192.4,426.28 L193.4,426.87 L194.4,427.46 L195.4,428.05 L196.4,428.64 L197.4,429.24 L198.4,429.84 L199.4,430.44 L200.4,431.05 L201.4,431.65 L202.4,432.27 L203.4,432.88 L204.4,433.5 L205.4,434.11 L206.4,434.74 L207.4,435.36 L208.4,435.99 L209.4,436.62 L210.4,437.25 L211.4,437.89 L212.4,438.52 L213.4,439.16 L214.4,439.81 L215.4,440.45 L216.4,441.1 L217.4,441.75 L218.4,442.41 L219.4,443.06 L220.4,443.72 L221.4,444.38 L222.4,445.04 L223.4,445.71 L224.4,446.38 L225.4,447.05 L226.4,447.72 L227.4,448.4 L228.4,449.08 L229.4,449.76 L230.4,450.45 L231.4,451.13 L232.4,451.82 L233.4,452.51 L234.4,453.2 L235.4,453.9 L236.4,454.6 L237.4,455.3 L238.4,456 L239.4,456.71 L240.4,457.41 L241.4,458.13 L242.4,458.84 L243.4,459.55 L244.4,460.27 L245.4,460.99 L246.4,461.71 L247.4,462.43 L248.4,463.16 L249.4,463.89 L250.4,464.62 L251.4,465.35 L252.4,466.09 L253.4,466.82 L253.6,466.97" fill="none" stroke="#0aa84a" stroke-width="1.5" stroke-linejoin="round" stroke-linecap="round"/>
<path d="M49.4,376.44 L50.4,376.81 L51.4,377.18 L52.4,377.56 L53.4,377.95 L54.4,378.35 L55.4,378.75 L56.4,379.16 L57.4,379.58 L58.4,380.01 L59.4,380.44 L60.4,380.88 L61.4,381.33 L62.4,381.78 L63.4,382.24 L64.4,382.71 L65.4,383.19 L66.4,383.67 L67.4,384.15 L68.4,384.64 L69.4,385.14 L70.4,385.65 L71.4,386.16 L72.4,386.67 L73.4,387.19 L74.4,387.72 L75.4,388.25 L76.4,388.79 L77.4,389.34 L78.4,389.88 L79.4,390.44 L80.4,390.99 L81.4,391.56 L82.4,392.12 L83.4,392.7 L84.4,393.27 L85.4,393.85 L86.4,394.44 L87.4,395.03 L88.4,395.62 L89.4,396.22 L90.4,396.82 L91.4,397.42 L92.4,398.03 L93.4,398.64 L94.4,399.25 L95.4,399.87 L96.4,400.49 L97.4,401.12 L98.4,401.74 L99.4,402.37 L100.4,403.01 L101.4,403.64 L102.4,404.28 L103.4,404.92 L104.4,405.56 L105.4,406.21 L106.4,406.85 L107.4,407.5 L108.4,408.15 L109.4,408.8 L110.4,409.46 L111.4,410.11 L112.4,410.77 L113.4,411.42 L114.4,412.08 L115.4,412.74 L116.4,413.4 L117.4,414.07 L118.4,414.73 L119.4,415.39 L120.4,416.05 L121.4,416.72 L122.4,417.38 L123.4,418.05 L124.4,418.71 L125.4,419.37 L126.4,420.04 L127.4,420.7 L128.4,421.36 L129.4,422.03 L130.4,422.69 L131.4,423.35 L132.4,424.01 L133.4,424.67 L134.4,425.33 L135.4,425.99 L136.4,426.64 L137.4,427.3 L138.4,427.95 L139.4,428.6 L140.4,429.25 L141.4,429.9 L142.4,430.55 L143.4,431.19 L144.4,431.83 L145.4,432.47 L146.4,433.11 L147.4,433.74 L148.4,434.37 L149.4,435 L150.4,435.63 L151.4,436.25 L152.4,436.87 L153.4,437.49 L154.4,438.1 L155.4,438.71 L156.4,439.32 L157.4,439.92 L158.4,440.52 L159.4,441.12 L160.4,441.71 L161.4,442.3 L162.4,442.88 L163.4,443.46 L164.4,444.03 L165.4,444.6 L166.4,445.17 L167.4,445.73 L168.4,446.28 L169.4,446.83 L170.4,447.38 L171.4,447.92 L172.4,448.45 L173.4,448.98 L174.4,449.5 L175.4,450.02 L176.4,450.53 L177.4,451.04 L178.4,451.54 L179.4,452.03 L180.4,452.52 L181.4,453 L182.4,453.47 L183.4,453.94 L184.4,454.4 L185.4,454.86 L186.4,455.3 L187.4,455.74 L188.4,456.18 L189.4,456.6 L190.4,457.02 L191.4,457.43 L192.4,457.83 L193.4,458.23 L194.4,458.62 L195.4,458.99 L196.4,459.36 L197.4,459.73 L198.4,460.08 L199.4,460.43 L200.4,460.76 L201.4,461.09 L202.4,461.41 L203.4,461.72 L204.4,462.02 L205.4,462.31 L206.4,462.6 L207.4,462.87 L208.4,463.13 L209.4,463.39 L210.4,463.63 L211.4,463.87 L212.4,464.09 L213.4,464.31 L214.4,464.51 L215.4,464.7 L216.4,464.89 L217.4,465.06 L218.4,465.22 L219.4,465.37 L220.4,465.51 L221.4,465.64 L222.4,465.76 L223.4,465.86 L224.4,465.96 L225.4,466.04 L226.4,466.11 L227.4,466.17 L228.4,466.22 L229.4,466.25 L230.4,466.28 L231.4,466.29 L232.4,466.29 L233.4,466.27 L234.4,466.25 L235.4,466.21 L236.4,466.15 L237.4,466.09 L238.4,466.01 L239.4,465.92 L240.4,465.81 L241.4,465.7 L242.4,465.56 L243.4,465.42 L244.4,465.26 L245.4,465.08 L246.4,464.9 L247.4,464.69 L248.4,464.48 L249.4,464.25 L250.4,464 L251.4,463.74 L252.4,463.47 L253.4,463.18 L253.6,463.12" fill="none" stroke="#1212d6" stroke-width="1.5" stroke-linejoin="round" stroke-linecap="round"/>
<path d="M49.4,376.13 L50.4,376.77 L51.4,377.42 L52.4,378.08 L53.4,378.74 L54.4,379.4 L55.4,380.08 L56.4,380.75 L57.4,381.43 L58.4,382.12 L59.4,382.82 L60.4,383.51 L61.4,384.21 L62.4,384.92 L63.4,385.63 L64.4,386.35 L65.4,387.07 L66.4,387.79 L67.4,388.51 L68.4,389.24 L69.4,389.98 L70.4,390.71 L71.4,391.45 L72.4,392.19 L73.4,392.94 L74.4,393.69 L75.4,394.44 L76.4,395.19 L77.4,395.94 L78.4,396.7 L79.4,397.46 L80.4,398.22 L81.4,398.98 L82.4,399.74 L83.4,400.51 L84.4,401.27 L85.4,402.04 L86.4,402.81 L87.4,403.58 L88.4,404.35 L89.4,405.12 L90.4,405.89 L91.4,406.66 L92.4,407.43 L93.4,408.2 L94.4,408.97 L95.4,409.74 L96.4,410.51 L97.4,411.28 L98.4,412.05 L99.4,412.82 L100.4,413.59 L101.4,414.36 L102.4,415.12 L103.4,415.89 L104.4,416.65 L105.4,417.42 L106.4,418.18 L107.4,418.94 L108.4,419.69 L109.4,420.45 L110.4,421.2 L111.4,421.96 L112.4,422.71 L113.4,423.46 L114.4,424.2 L115.4,424.95 L116.4,425.69 L117.4,426.43 L118.4,427.16 L119.4,427.9 L120.4,428.63 L121.4,429.35 L122.4,430.08 L123.4,430.8 L124.4,431.52 L125.4,432.23 L126.4,432.95 L127.4,433.65 L128.4,434.36 L129.4,435.06 L130.4,435.76 L131.4,436.45 L132.4,437.14 L133.4,437.83 L134.4,438.51 L135.4,439.19 L136.4,439.86 L137.4,440.53 L138.4,441.2 L139.4,441.86 L140.4,442.52 L141.4,443.17 L142.4,443.82 L143.4,444.46 L144.4,445.1 L145.4,445.73 L146.4,446.36 L147.4,446.99 L148.4,447.61 L149.4,448.22 L150.4,448.83 L151.4,449.44 L152.4,450.04 L153.4,450.63 L154.4,451.22 L155.4,451.81 L156.4,452.38 L157.4,452.96 L158.4,453.53 L159.4,454.09 L160.4,454.64 L161.4,455.2 L162.4,455.74 L163.4,456.28 L164.4,456.82 L165.4,457.35 L166.4,457.87 L167.4,458.39 L168.4,458.9 L169.4,459.4 L170.4,459.9 L171.4,460.4 L172.4,460.89 L173.4,461.37 L174.4,461.85 L175.4,462.32 L176.4,462.78 L177.4,463.24 L178.4,463.69 L179.4,464.14 L180.4,464.58 L181.4,465.01 L182.4,465.44 L183.4,465.86 L184.4,466.28 L185.4,466.68 L186.4,467.09 L187.4,467.48 L188.4,467.88 L189.4,468.26 L190.4,468.64 L191.4,469.01 L192.4,469.37 L193.4,469.73 L194.4,470.09 L195.4,470.43 L196.4,470.77 L197.4,471.11 L198.4,471.44 L199.4,471.76 L200.4,472.07 L201.4,472.38 L202.4,472.69 L203.4,472.98 L204.4,473.27 L205.4,473.56 L206.4,473.84 L207.4,474.11 L208.4,474.37 L209.4,474.63 L210.4,474.89 L211.4,475.13 L212.4,475.37 L213.4,475.61 L214.4,475.84 L215.4,476.06 L216.4,476.28 L217.4,476.49 L218.4,476.69 L219.4,476.89 L220.4,477.09 L221.4,477.27 L222.4,477.45 L223.4,477.63 L224.4,477.8 L225.4,477.96 L226.4,478.12 L227.4,478.27 L228.4,478.42 L229.4,478.56 L230.4,478.7 L231.4,478.83 L232.4,478.95 L233.4,479.07 L234.4,479.18 L235.4,479.29 L236.4,479.39 L237.4,479.49 L238.4,479.58 L239.4,479.67 L240.4,479.75 L241.4,479.83 L242.4,479.9 L243.4,479.97 L244.4,480.03 L245.4,480.08 L246.4,480.14 L247.4,480.18 L248.4,480.23 L249.4,480.27 L250.4,480.3 L251.4,480.33 L252.4,480.35 L253.4,480.37 L253.6,480.38" fill="none" stroke="#ff1010" stroke-width="1.5" stroke-linejoin="round" stroke-linecap="round"/>
<path d="M313.6,377.25 C316.32,382.12 324.42,396.12 329.9,406.5 C335.38,416.88 342.07,431.35 346.5,439.5 C350.93,447.65 353.55,450.83 356.5,455.4 C359.45,459.97 361.65,463.7 364.2,466.9 C366.75,470.1 369.25,472.72 371.8,474.6 C374.35,476.48 377.18,477.3 379.5,478.2 C381.82,479.1 382.62,479.45 385.7,480 C388.78,480.55 392.28,481.27 398,481.5 C403.72,481.73 412,481.55 420,481.4 C428,481.25 430.58,480.67 446,480.6 C461.42,480.53 501.42,480.93 512.5,481" fill="none" stroke="#0aa84a" stroke-width="1.5" stroke-linejoin="round" stroke-linecap="round"/>
<path d="M313.6,377.25 C315.37,386.04 321.47,418.64 324.2,430 C326.93,441.36 328.47,441.87 330,445.4 C331.53,448.93 331.82,449.53 333.4,451.2 C334.98,452.87 337.32,454.23 339.5,455.4 C341.68,456.57 342.92,456.93 346.5,458.2 C350.08,459.47 355.5,461.55 361,463 C366.5,464.45 373.33,465.78 379.5,466.9 C385.67,468.02 386.92,468.65 398,469.7 C409.08,470.75 426.92,472.43 446,473.2 C465.08,473.97 501.42,474.12 512.5,474.3" fill="none" stroke="#1212d6" stroke-width="1.5" stroke-linejoin="round" stroke-linecap="round"/>
<path d="M313.6,377.25 C314.97,386.04 319.78,417.38 321.8,430 C323.82,442.62 324.42,447.53 325.7,453 C326.98,458.47 328.22,460.48 329.5,462.8 C330.78,465.12 331.98,465.9 333.4,466.9 C334.82,467.9 335.82,468.37 338,468.8 C340.18,469.23 339.58,468.7 346.5,469.5 C353.42,470.3 370.92,472.55 379.5,473.6 C388.08,474.65 386.92,474.9 398,475.8 C409.08,476.7 426.92,478.03 446,479 C465.08,479.97 501.42,481.17 512.5,481.6" fill="none" stroke="#ff1010" stroke-width="1.5" stroke-linejoin="round" stroke-linecap="round"/>
<path d="M387.5,361.5 H404.8" stroke="#1212d6" stroke-width="1.7"/>
<path d="M387.5,377.2 H404.8" stroke="#ff1010" stroke-width="1.7"/>
<path d="M387.5,392.5 H404.8" stroke="#0aa84a" stroke-width="1.7"/>
<circle cx="47.5" cy="36" r="2.6" fill="#0808b8"/>
<circle cx="64.4" cy="40" r="2.6" fill="#0808b8"/>
<circle cx="81.25" cy="39.9" r="2.6" fill="#0808b8"/>
<circle cx="114.75" cy="41.1" r="2.6" fill="#0808b8"/>
<circle cx="181.9" cy="84.8" r="2.6" fill="#0808b8"/>
<circle cx="249.3" cy="108.6" r="2.6" fill="#0808b8"/>
<circle cx="47.5" cy="36" r="3.05" fill="#ff1010"/>
<circle cx="64.4" cy="41" r="3.05" fill="#ff1010"/>
<circle cx="81.25" cy="42.75" r="3.05" fill="#ff1010"/>
<circle cx="114.75" cy="48.6" r="3.05" fill="#ff1010"/>
<circle cx="181.9" cy="90.2" r="3.05" fill="#ff1010"/>
<circle cx="249.3" cy="109.9" r="3.05" fill="#ff1010"/>
<rect x="44.6" y="33.1" width="5.8" height="5.8" fill="#0aa84a"/>
<rect x="61.5" y="38.2" width="5.8" height="5.8" fill="#0aa84a"/>
<rect x="78.35" y="45.35" width="5.8" height="5.8" fill="#0aa84a"/>
<rect x="111.85" y="65.35" width="5.8" height="5.8" fill="#0aa84a"/>
<rect x="179" y="126.9" width="5.8" height="5.8" fill="#0aa84a"/>
<rect x="246.4" y="134.1" width="5.8" height="5.8" fill="#0aa84a"/>
<circle cx="132.3" cy="19.8" r="2.6" fill="#0808b8"/>
<circle cx="132.3" cy="33.6" r="3.05" fill="#ff1010"/>
<rect x="129.4" y="44.6" width="5.8" height="5.8" fill="#0aa84a"/>
<circle cx="312.5" cy="35.5" r="2.6" fill="#0808b8"/>
<circle cx="322.6" cy="32" r="2.6" fill="#0808b8"/>
<circle cx="332.75" cy="33.25" r="2.6" fill="#0808b8"/>
<circle cx="352.9" cy="40.2" r="2.6" fill="#0808b8"/>
<circle cx="393.3" cy="72.3" r="2.6" fill="#0808b8"/>
<circle cx="433.7" cy="96.3" r="2.6" fill="#0808b8"/>
<circle cx="473.8" cy="116.4" r="2.6" fill="#0808b8"/>
<circle cx="513.3" cy="132.9" r="2.6" fill="#0808b8"/>
<circle cx="312.5" cy="35.5" r="3.05" fill="#ff1010"/>
<circle cx="322.6" cy="37" r="3.05" fill="#ff1010"/>
<circle cx="332.75" cy="49.25" r="3.05" fill="#ff1010"/>
<circle cx="352.9" cy="72.3" r="3.05" fill="#ff1010"/>
<circle cx="393.3" cy="103.7" r="3.05" fill="#ff1010"/>
<circle cx="433.5" cy="126.5" r="3.05" fill="#ff1010"/>
<circle cx="473.8" cy="139.5" r="3.05" fill="#ff1010"/>
<rect x="309.6" y="32.6" width="5.8" height="5.8" fill="#0aa84a"/>
<rect x="319.7" y="33.85" width="5.8" height="5.8" fill="#0aa84a"/>
<rect x="329.85" y="41.35" width="5.8" height="5.8" fill="#0aa84a"/>
<rect x="350" y="52.3" width="5.8" height="5.8" fill="#0aa84a"/>
<rect x="390.4" y="52.3" width="5.8" height="5.8" fill="#0aa84a"/>
<rect x="430.8" y="67.1" width="5.8" height="5.8" fill="#0aa84a"/>
<rect x="470.9" y="80.4" width="5.8" height="5.8" fill="#0aa84a"/>
<rect x="510.4" y="99.1" width="5.8" height="5.8" fill="#0aa84a"/>
<circle cx="393.75" cy="15" r="2.6" fill="#0808b8"/>
<circle cx="393.75" cy="28" r="3.05" fill="#ff1010"/>
<rect x="390.85" y="37.1" width="5.8" height="5.8" fill="#0aa84a"/>
<circle cx="71.25" cy="308" r="3.2" fill="#0808b8"/>
<circle cx="82.5" cy="307.5" r="3.2" fill="#0808b8"/>
<circle cx="105.75" cy="306.25" r="3.2" fill="#0808b8"/>
<circle cx="137.5" cy="300.75" r="3.2" fill="#0808b8"/>
<circle cx="161.25" cy="292.5" r="3.2" fill="#0808b8"/>
<circle cx="185.3" cy="267.5" r="3.2" fill="#0808b8"/>
<circle cx="216.25" cy="200.75" r="3.2" fill="#0808b8"/>
<circle cx="240" cy="205.5" r="3.2" fill="#0808b8"/>
<path d="M71.25,305.23 L67.65,311.71 L74.85,311.71 Z" fill="#8c1414"/>
<path d="M82.5,303.48 L78.9,309.96 L86.1,309.96 Z" fill="#8c1414"/>
<path d="M105.75,301.48 L102.15,307.96 L109.35,307.96 Z" fill="#8c1414"/>
<path d="M137.5,290.48 L133.9,296.96 L141.1,296.96 Z" fill="#8c1414"/>
<path d="M161.25,230.98 L157.65,237.46 L164.85,237.46 Z" fill="#8c1414"/>
<path d="M185.5,232.23 L181.9,238.71 L189.1,238.71 Z" fill="#8c1414"/>
<circle cx="81.5" cy="191.1" r="3.2" fill="#0808b8"/>
<path d="M81.5,203.18 L77.9,209.66 L85.1,209.66 Z" fill="#8c1414"/>
<circle cx="314.2" cy="200.75" r="2.6" fill="#0808b8"/>
<circle cx="326.6" cy="197" r="2.6" fill="#0808b8"/>
<circle cx="339" cy="204.5" r="2.6" fill="#0808b8"/>
<circle cx="363.7" cy="214.5" r="2.6" fill="#0808b8"/>
<circle cx="413.3" cy="243.4" r="2.6" fill="#0808b8"/>
<circle cx="462.8" cy="262" r="2.6" fill="#0808b8"/>
<circle cx="512.3" cy="272.6" r="2.6" fill="#0808b8"/>
<circle cx="314.2" cy="200.75" r="3.05" fill="#ff1010"/>
<circle cx="326.6" cy="235.8" r="3.05" fill="#ff1010"/>
<circle cx="339" cy="257.2" r="3.05" fill="#ff1010"/>
<circle cx="363.7" cy="272.2" r="3.05" fill="#ff1010"/>
<circle cx="413.3" cy="284.5" r="3.05" fill="#ff1010"/>
<circle cx="462.8" cy="294.9" r="3.05" fill="#ff1010"/>
<circle cx="512.3" cy="297.7" r="3.05" fill="#ff1010"/>
<rect x="311.3" y="197.85" width="5.8" height="5.8" fill="#0aa84a"/>
<rect x="323.7" y="209.1" width="5.8" height="5.8" fill="#0aa84a"/>
<rect x="336.1" y="220.1" width="5.8" height="5.8" fill="#0aa84a"/>
<rect x="360.8" y="233.35" width="5.8" height="5.8" fill="#0aa84a"/>
<rect x="410.4" y="235.4" width="5.8" height="5.8" fill="#0aa84a"/>
<rect x="459.9" y="259.9" width="5.8" height="5.8" fill="#0aa84a"/>
<rect x="509.4" y="271.4" width="5.8" height="5.8" fill="#0aa84a"/>
<circle cx="387.3" cy="185.2" r="2.6" fill="#0808b8"/>
<circle cx="387.3" cy="197.3" r="3.05" fill="#ff1010"/>
<rect x="384.4" y="206.8" width="5.8" height="5.8" fill="#0aa84a"/>
<circle cx="49.4" cy="376" r="2.6" fill="#0808b8"/>
<circle cx="59.75" cy="370.8" r="2.6" fill="#0808b8"/>
<circle cx="69.75" cy="379.5" r="2.6" fill="#0808b8"/>
<circle cx="90.3" cy="398.1" r="2.6" fill="#0808b8"/>
<circle cx="130.1" cy="422" r="2.6" fill="#0808b8"/>
<circle cx="172" cy="448.6" r="2.6" fill="#0808b8"/>
<circle cx="212.6" cy="461.3" r="2.6" fill="#0808b8"/>
<circle cx="253.6" cy="463.5" r="2.6" fill="#0808b8"/>
<circle cx="49.4" cy="376" r="3.05" fill="#ff1010"/>
<circle cx="59.75" cy="383.1" r="3.05" fill="#ff1010"/>
<circle cx="69.75" cy="392.5" r="3.05" fill="#ff1010"/>
<circle cx="90.6" cy="402.25" r="3.05" fill="#ff1010"/>
<circle cx="130.1" cy="438.9" r="3.05" fill="#ff1010"/>
<circle cx="172" cy="459.6" r="3.05" fill="#ff1010"/>
<circle cx="212.6" cy="474.9" r="3.05" fill="#ff1010"/>
<circle cx="253.6" cy="480.4" r="3.05" fill="#ff1010"/>
<rect x="46.5" y="373.1" width="5.8" height="5.8" fill="#0aa84a"/>
<rect x="56.85" y="370.2" width="5.8" height="5.8" fill="#0aa84a"/>
<rect x="66.85" y="379" width="5.8" height="5.8" fill="#0aa84a"/>
<rect x="87.7" y="386.85" width="5.8" height="5.8" fill="#0aa84a"/>
<rect x="127.9" y="390.6" width="5.8" height="5.8" fill="#0aa84a"/>
<rect x="169.4" y="410.6" width="5.8" height="5.8" fill="#0aa84a"/>
<rect x="209.7" y="436" width="5.8" height="5.8" fill="#0aa84a"/>
<rect x="250.7" y="462.7" width="5.8" height="5.8" fill="#0aa84a"/>
<circle cx="129.8" cy="356.5" r="2.6" fill="#0808b8"/>
<circle cx="129.8" cy="368.2" r="3.05" fill="#ff1010"/>
<rect x="126.9" y="378.9" width="5.8" height="5.8" fill="#0aa84a"/>
<circle cx="330" cy="445.4" r="2.6" fill="#0808b8"/>
<circle cx="346.5" cy="458.2" r="2.6" fill="#0808b8"/>
<circle cx="379.5" cy="466.9" r="2.6" fill="#0808b8"/>
<circle cx="446" cy="473.2" r="2.6" fill="#0808b8"/>
<circle cx="512.5" cy="474" r="2.6" fill="#0808b8"/>
<circle cx="329.5" cy="462.8" r="3.05" fill="#ff1010"/>
<circle cx="346.5" cy="469.2" r="3.05" fill="#ff1010"/>
<circle cx="379.5" cy="473.4" r="3.05" fill="#ff1010"/>
<circle cx="446" cy="479.4" r="3.05" fill="#ff1010"/>
<circle cx="512.5" cy="481.6" r="3.05" fill="#ff1010"/>
<rect x="310.7" y="374.35" width="5.8" height="5.8" fill="#0aa84a"/>
<rect x="327" y="403.6" width="5.8" height="5.8" fill="#0aa84a"/>
<rect x="343.6" y="436.6" width="5.8" height="5.8" fill="#0aa84a"/>
<rect x="376.6" y="475.3" width="5.8" height="5.8" fill="#0aa84a"/>
<rect x="443.1" y="477.1" width="5.8" height="5.8" fill="#0aa84a"/>
<rect x="509.6" y="477.9" width="5.8" height="5.8" fill="#0aa84a"/>
<circle cx="396.2" cy="361.5" r="2.6" fill="#0808b8"/>
<circle cx="396.2" cy="377.2" r="3.05" fill="#ff1010"/>
<rect x="393.3" y="389.6" width="5.8" height="5.8" fill="#0aa84a"/>
<text x="0" y="0" font-size="12.5" font-weight="bold" fill="#111" stroke="#111" stroke-width="0.45" transform="translate(0.6,11) scale(1,1.08)">A</text>
<text x="0" y="0" font-size="9.2" fill="#1a1a1a" stroke="#1a1a1a" stroke-width="0.28" text-anchor="end" transform="translate(42.35,143.85) scale(0.955,1)">0</text>
<text x="0" y="0" font-size="9.2" fill="#1a1a1a" stroke="#1a1a1a" stroke-width="0.28" text-anchor="end" transform="translate(42.35,122.89) scale(0.955,1)">20</text>
<text x="0" y="0" font-size="9.2" fill="#1a1a1a" stroke="#1a1a1a" stroke-width="0.28" text-anchor="end" transform="translate(42.35,101.93) scale(0.955,1)">40</text>
<text x="0" y="0" font-size="9.2" fill="#1a1a1a" stroke="#1a1a1a" stroke-width="0.28" text-anchor="end" transform="translate(42.35,80.97) scale(0.955,1)">60</text>
<text x="0" y="0" font-size="9.2" fill="#1a1a1a" stroke="#1a1a1a" stroke-width="0.28" text-anchor="end" transform="translate(42.35,60.01) scale(0.955,1)">80</text>
<text x="0" y="0" font-size="9.2" fill="#1a1a1a" stroke="#1a1a1a" stroke-width="0.28" text-anchor="end" transform="translate(42.35,39.05) scale(0.955,1)">100</text>
<text x="0" y="0" font-size="9.2" fill="#1a1a1a" stroke="#1a1a1a" stroke-width="0.28" text-anchor="end" transform="translate(42.35,18.09) scale(0.955,1)">120</text>
<text x="0" y="0" font-size="9.2" fill="#1a1a1a" stroke="#1a1a1a" stroke-width="0.28" text-anchor="middle" transform="translate(47.3,153.05) scale(0.955,1)">0</text>
<text x="0" y="0" font-size="9.2" fill="#1a1a1a" stroke="#1a1a1a" stroke-width="0.28" text-anchor="middle" transform="translate(114.63,153.05) scale(0.955,1)">100</text>
<text x="0" y="0" font-size="9.2" fill="#1a1a1a" stroke="#1a1a1a" stroke-width="0.28" text-anchor="middle" transform="translate(181.96,153.05) scale(0.955,1)">200</text>
<text x="0" y="0" font-size="9.2" fill="#1a1a1a" stroke="#1a1a1a" stroke-width="0.28" text-anchor="middle" transform="translate(249.29,153.05) scale(0.955,1)">300</text>
<text x="94.6" y="165.1" font-size="9.4" font-weight="bold" fill="#1a1a1a" stroke="#1a1a1a" stroke-width="0.3" text-anchor="start" textLength="95.3">MMAF conc. (nmol/L)</text>
<text x="0" y="0" font-size="9.5" font-weight="bold" fill="#1a1a1a" stroke="#1a1a1a" stroke-width="0.3" text-anchor="middle" transform="translate(22,75.8) rotate(-90)">Viability (%)</text>
<text x="137.4" y="22.9" font-size="9.3" font-weight="normal" fill="#111" stroke="#111" stroke-width="0.3" text-anchor="start">MDA-MB-231</text>
<text x="137.4" y="36.6" font-size="9.3" font-weight="normal" fill="#111" stroke="#111" stroke-width="0.3" text-anchor="start">MDA-MB-468</text>
<text x="137.4" y="50.5" font-size="9.3" font-weight="normal" fill="#111" stroke="#111" stroke-width="0.3" text-anchor="start">4T1</text>
<text x="172.3" y="52.2" font-size="9.3" fill="#1c1cc8" stroke="#1c1cc8" stroke-width="0.13">IC<tspan font-size="6.1" dy="3.3" stroke-width="0.05">50</tspan><tspan dx="0.9" dy="-3.3" stroke-width="0.13">= 151.0 nmol/L</tspan></text>
<text x="172.3" y="63.7" font-size="9.3" fill="#f01c1c" stroke="#f01c1c" stroke-width="0.13">IC<tspan font-size="6.1" dy="3.3" stroke-width="0.05">50</tspan><tspan dx="0.9" dy="-3.3" stroke-width="0.13">= 143.0 nmol/L</tspan></text>
<text x="172.3" y="73.9" font-size="9.3" fill="#1e9e30" stroke="#1e9e30" stroke-width="0.13">IC<tspan font-size="6.1" dy="3.3" stroke-width="0.05">50</tspan><tspan dx="0.9" dy="-3.3" stroke-width="0.13">= 103.7 nmol/L</tspan></text>
<text x="0" y="0" font-size="12.5" font-weight="bold" fill="#111" stroke="#111" stroke-width="0.45" transform="translate(265.8,11) scale(1,1.08)">B</text>
<text x="0" y="0" font-size="9.2" fill="#1a1a1a" stroke="#1a1a1a" stroke-width="0.28" text-anchor="end" transform="translate(307.35,143.7) scale(0.955,1)">0</text>
<text x="0" y="0" font-size="9.2" fill="#1a1a1a" stroke="#1a1a1a" stroke-width="0.28" text-anchor="end" transform="translate(307.35,122.77) scale(0.955,1)">20</text>
<text x="0" y="0" font-size="9.2" fill="#1a1a1a" stroke="#1a1a1a" stroke-width="0.28" text-anchor="end" transform="translate(307.35,101.83) scale(0.955,1)">40</text>
<text x="0" y="0" font-size="9.2" fill="#1a1a1a" stroke="#1a1a1a" stroke-width="0.28" text-anchor="end" transform="translate(307.35,80.9) scale(0.955,1)">60</text>
<text x="0" y="0" font-size="9.2" fill="#1a1a1a" stroke="#1a1a1a" stroke-width="0.28" text-anchor="end" transform="translate(307.35,59.96) scale(0.955,1)">80</text>
<text x="0" y="0" font-size="9.2" fill="#1a1a1a" stroke="#1a1a1a" stroke-width="0.28" text-anchor="end" transform="translate(307.35,39.03) scale(0.955,1)">100</text>
<text x="0" y="0" font-size="9.2" fill="#1a1a1a" stroke="#1a1a1a" stroke-width="0.28" text-anchor="end" transform="translate(307.35,18.1) scale(0.955,1)">120</text>
<text x="0" y="0" font-size="9.2" fill="#1a1a1a" stroke="#1a1a1a" stroke-width="0.28" text-anchor="middle" transform="translate(313.9,152.9) scale(0.955,1)">0</text>
<text x="0" y="0" font-size="9.2" fill="#1a1a1a" stroke="#1a1a1a" stroke-width="0.28" text-anchor="middle" transform="translate(364.05,152.9) scale(0.955,1)">5</text>
<text x="0" y="0" font-size="9.2" fill="#1a1a1a" stroke="#1a1a1a" stroke-width="0.28" text-anchor="middle" transform="translate(414.2,152.9) scale(0.955,1)">10</text>
<text x="0" y="0" font-size="9.2" fill="#1a1a1a" stroke="#1a1a1a" stroke-width="0.28" text-anchor="middle" transform="translate(464.35,152.9) scale(0.955,1)">15</text>
<text x="0" y="0" font-size="9.2" fill="#1a1a1a" stroke="#1a1a1a" stroke-width="0.28" text-anchor="middle" transform="translate(514.5,152.9) scale(0.955,1)">20</text>
<text x="354.5" y="165.1" font-size="9.4" font-weight="bold" fill="#1a1a1a" stroke="#1a1a1a" stroke-width="0.3" text-anchor="start" textLength="84.25">IMQ conc. (µmol/L)</text>
<text x="0" y="0" font-size="9.5" font-weight="bold" fill="#1a1a1a" stroke="#1a1a1a" stroke-width="0.3" text-anchor="middle" transform="translate(286.8,75.8) rotate(-90)">Viability (%)</text>
<text x="399.5" y="18.3" font-size="9.3" font-weight="normal" fill="#111" stroke="#111" stroke-width="0.3" text-anchor="start">MDA-MB-231</text>
<text x="399.5" y="31.3" font-size="9.3" font-weight="normal" fill="#111" stroke="#111" stroke-width="0.3" text-anchor="start">MDA-MB-468</text>
<text x="399.5" y="43.3" font-size="9.3" font-weight="normal" fill="#111" stroke="#111" stroke-width="0.3" text-anchor="start">4T1</text>
<text x="440.7" y="44.4" font-size="9.3" fill="#1c1cc8" stroke="#1c1cc8" stroke-width="0.13">IC<tspan font-size="6.1" dy="3.3" stroke-width="0.05">50</tspan><tspan dx="0.9" dy="-3.3" stroke-width="0.13">= 10.4 µmol/L</tspan></text>
<text x="440.7" y="55.8" font-size="9.3" fill="#f01c1c" stroke="#f01c1c" stroke-width="0.13">IC<tspan font-size="6.1" dy="3.3" stroke-width="0.05">50</tspan><tspan dx="0.9" dy="-3.3" stroke-width="0.13">= 6.2 µmol/L</tspan></text>
<text x="440.7" y="66.3" font-size="9.3" fill="#1e9e30" stroke="#1e9e30" stroke-width="0.13">IC<tspan font-size="6.1" dy="3.3" stroke-width="0.05">50</tspan><tspan dx="0.9" dy="-3.3" stroke-width="0.13">= 11.4 µmol/L</tspan></text>
<text x="0" y="0" font-size="12.5" font-weight="bold" fill="#111" stroke="#111" stroke-width="0.45" transform="translate(0.7,176.1) scale(1,1.08)">C</text>
<text x="0" y="0" font-size="9.2" fill="#1a1a1a" stroke="#1a1a1a" stroke-width="0.28" text-anchor="end" transform="translate(42.35,312.1) scale(0.955,1)">0.0</text>
<text x="0" y="0" font-size="9.2" fill="#1a1a1a" stroke="#1a1a1a" stroke-width="0.28" text-anchor="end" transform="translate(42.35,293.9) scale(0.955,1)">0.2</text>
<text x="0" y="0" font-size="9.2" fill="#1a1a1a" stroke="#1a1a1a" stroke-width="0.28" text-anchor="end" transform="translate(42.35,275.7) scale(0.955,1)">0.4</text>
<text x="0" y="0" font-size="9.2" fill="#1a1a1a" stroke="#1a1a1a" stroke-width="0.28" text-anchor="end" transform="translate(42.35,257.5) scale(0.955,1)">0.6</text>
<text x="0" y="0" font-size="9.2" fill="#1a1a1a" stroke="#1a1a1a" stroke-width="0.28" text-anchor="end" transform="translate(42.35,239.3) scale(0.955,1)">0.8</text>
<text x="0" y="0" font-size="9.2" fill="#1a1a1a" stroke="#1a1a1a" stroke-width="0.28" text-anchor="end" transform="translate(42.35,221.1) scale(0.955,1)">1.0</text>
<text x="0" y="0" font-size="9.2" fill="#1a1a1a" stroke="#1a1a1a" stroke-width="0.28" text-anchor="end" transform="translate(42.35,202.9) scale(0.955,1)">1.2</text>
<text x="0" y="0" font-size="9.2" fill="#1a1a1a" stroke="#1a1a1a" stroke-width="0.28" text-anchor="end" transform="translate(42.35,184.7) scale(0.955,1)">1.4</text>
<text x="0" y="0" font-size="9.2" fill="#1a1a1a" stroke="#1a1a1a" stroke-width="0.28" text-anchor="middle" transform="translate(45.9,322) scale(0.955,1)">−1</text>
<text x="0" y="0" font-size="9.2" fill="#1a1a1a" stroke="#1a1a1a" stroke-width="0.28" text-anchor="middle" transform="translate(81.95,322) scale(0.955,1)">0</text>
<text x="0" y="0" font-size="9.2" fill="#1a1a1a" stroke="#1a1a1a" stroke-width="0.28" text-anchor="middle" transform="translate(116.4,322) scale(0.955,1)">1</text>
<text x="0" y="0" font-size="9.2" fill="#1a1a1a" stroke="#1a1a1a" stroke-width="0.28" text-anchor="middle" transform="translate(150.85,322) scale(0.955,1)">2</text>
<text x="0" y="0" font-size="9.2" fill="#1a1a1a" stroke="#1a1a1a" stroke-width="0.28" text-anchor="middle" transform="translate(185.3,322) scale(0.955,1)">3</text>
<text x="0" y="0" font-size="9.2" fill="#1a1a1a" stroke="#1a1a1a" stroke-width="0.28" text-anchor="middle" transform="translate(219.75,322) scale(0.955,1)">4</text>
<text x="0" y="0" font-size="9.2" fill="#1a1a1a" stroke="#1a1a1a" stroke-width="0.28" text-anchor="middle" transform="translate(254.2,322) scale(0.955,1)">5</text>
<text x="93.7" y="332.6" font-size="9.4" font-weight="bold" fill="#1a1a1a" stroke="#1a1a1a" stroke-width="0.3" text-anchor="start" textLength="98.7">Ln IMQ conc. (µmol/L)</text>
<text x="0" y="0" font-size="9.5" font-weight="bold" fill="#1a1a1a" stroke="#1a1a1a" stroke-width="0.3" transform="translate(22.0,251.7) rotate(-90)">OD<tspan font-size="5.6" dy="3.0" stroke-width="0.1">630</tspan></text>
<text x="95.9" y="194.6" font-size="9.4" fill="#111" stroke="#111" stroke-width="0.3">Human TLR8<tspan font-size="5.6" dy="-2.6" stroke-width="0.1">+</tspan><tspan dy="2.6" stroke-width="0.3"> HEK</tspan></text>
<text x="95.9" y="210.2" font-size="9.4" fill="#111" stroke="#111" stroke-width="0.3">Murine TLR8<tspan font-size="5.6" dy="-2.6" stroke-width="0.1">+</tspan><tspan dy="2.6" stroke-width="0.3"> HEK</tspan></text>
<text x="59.6" y="225.1" font-size="9.3" fill="#1c1cc8" stroke="#1c1cc8" stroke-width="0.13">EC<tspan font-size="6.1" dy="3.3" stroke-width="0.05">50</tspan><tspan dx="0.9" dy="-3.3" stroke-width="0.13">= 24.5 µmol/L</tspan></text>
<text x="59.6" y="236" font-size="9.3" fill="#9a2020" stroke="#9a2020" stroke-width="0.13">EC<tspan font-size="6.1" dy="3.3" stroke-width="0.05">50</tspan><tspan dx="0.9" dy="-3.3" stroke-width="0.13">= 6.7 µmol/L</tspan></text>
<text x="0" y="0" font-size="12.5" font-weight="bold" fill="#111" stroke="#111" stroke-width="0.45" transform="translate(265.9,176.2) scale(1,1.08)">D</text>
<text x="0" y="0" font-size="9.2" fill="#1a1a1a" stroke="#1a1a1a" stroke-width="0.28" text-anchor="end" transform="translate(307.5,309.4) scale(0.955,1)">0</text>
<text x="0" y="0" font-size="9.2" fill="#1a1a1a" stroke="#1a1a1a" stroke-width="0.28" text-anchor="end" transform="translate(307.5,288.38) scale(0.955,1)">20</text>
<text x="0" y="0" font-size="9.2" fill="#1a1a1a" stroke="#1a1a1a" stroke-width="0.28" text-anchor="end" transform="translate(307.5,267.36) scale(0.955,1)">40</text>
<text x="0" y="0" font-size="9.2" fill="#1a1a1a" stroke="#1a1a1a" stroke-width="0.28" text-anchor="end" transform="translate(307.5,246.34) scale(0.955,1)">60</text>
<text x="0" y="0" font-size="9.2" fill="#1a1a1a" stroke="#1a1a1a" stroke-width="0.28" text-anchor="end" transform="translate(307.5,225.32) scale(0.955,1)">80</text>
<text x="0" y="0" font-size="9.2" fill="#1a1a1a" stroke="#1a1a1a" stroke-width="0.28" text-anchor="end" transform="translate(307.5,204.3) scale(0.955,1)">100</text>
<text x="0" y="0" font-size="9.2" fill="#1a1a1a" stroke="#1a1a1a" stroke-width="0.28" text-anchor="end" transform="translate(307.5,183.28) scale(0.955,1)">120</text>
<text x="0" y="0" font-size="9.2" fill="#1a1a1a" stroke="#1a1a1a" stroke-width="0.28" text-anchor="middle" transform="translate(314.8,320.6) scale(0.955,1)">0</text>
<text x="0" y="0" font-size="9.2" fill="#1a1a1a" stroke="#1a1a1a" stroke-width="0.28" text-anchor="middle" transform="translate(363.73,320.6) scale(0.955,1)">100</text>
<text x="0" y="0" font-size="9.2" fill="#1a1a1a" stroke="#1a1a1a" stroke-width="0.28" text-anchor="middle" transform="translate(413.26,320.6) scale(0.955,1)">200</text>
<text x="0" y="0" font-size="9.2" fill="#1a1a1a" stroke="#1a1a1a" stroke-width="0.28" text-anchor="middle" transform="translate(462.79,320.6) scale(0.955,1)">300</text>
<text x="0" y="0" font-size="9.2" fill="#1a1a1a" stroke="#1a1a1a" stroke-width="0.28" text-anchor="middle" transform="translate(512.32,320.6) scale(0.955,1)">400</text>
<text x="343.8" y="334" font-size="9.4" font-weight="bold" fill="#1a1a1a" stroke="#1a1a1a" stroke-width="0.3" text-anchor="start" textLength="120.5">mAb–MMAF conc. (nmol/L)</text>
<text x="0" y="0" font-size="9.5" font-weight="bold" fill="#1a1a1a" stroke="#1a1a1a" stroke-width="0.3" text-anchor="middle" transform="translate(287,241) rotate(-90)">Viability (%)</text>
<text x="398" y="188.4" font-size="9.3" font-weight="normal" fill="#111" stroke="#111" stroke-width="0.3" text-anchor="start">MDA-MB-231</text>
<text x="398" y="200.5" font-size="9.3" font-weight="normal" fill="#111" stroke="#111" stroke-width="0.3" text-anchor="start">MDA-MB-468</text>
<text x="398" y="212.9" font-size="9.3" font-weight="normal" fill="#111" stroke="#111" stroke-width="0.3" text-anchor="start">4T1</text>
<text x="437.8" y="219.2" font-size="9.3" fill="#1c1cc8" stroke="#1c1cc8" stroke-width="0.13">IC<tspan font-size="6.1" dy="3.3" stroke-width="0.05">50</tspan><tspan dx="0.9" dy="-3.3" stroke-width="0.13">= 175.0 nmol/L</tspan></text>
<text x="439.3" y="230.8" font-size="9.3" fill="#f01c1c" stroke="#f01c1c" stroke-width="0.13">IC<tspan font-size="6.1" dy="3.3" stroke-width="0.05">50</tspan><tspan dx="0.9" dy="-3.3" stroke-width="0.13">= 50.7 nmol/L</tspan></text>
<text x="438.7" y="242.9" font-size="9.3" fill="#1e9e30" stroke="#1e9e30" stroke-width="0.13">IC<tspan font-size="6.1" dy="3.3" stroke-width="0.05">50</tspan><tspan dx="0.9" dy="-3.3" stroke-width="0.13">= 125.4 nmol/L</tspan></text>
<text x="0" y="0" font-size="12.5" font-weight="bold" fill="#111" stroke="#111" stroke-width="0.45" transform="translate(2,352.6) scale(1,1.08)">E</text>
<text x="0" y="0" font-size="9.2" fill="#1a1a1a" stroke="#1a1a1a" stroke-width="0.28" text-anchor="end" transform="translate(42.3,485.6) scale(0.955,1)">0</text>
<text x="0" y="0" font-size="9.2" fill="#1a1a1a" stroke="#1a1a1a" stroke-width="0.28" text-anchor="end" transform="translate(42.3,464.44) scale(0.955,1)">20</text>
<text x="0" y="0" font-size="9.2" fill="#1a1a1a" stroke="#1a1a1a" stroke-width="0.28" text-anchor="end" transform="translate(42.3,443.28) scale(0.955,1)">40</text>
<text x="0" y="0" font-size="9.2" fill="#1a1a1a" stroke="#1a1a1a" stroke-width="0.28" text-anchor="end" transform="translate(42.3,422.12) scale(0.955,1)">60</text>
<text x="0" y="0" font-size="9.2" fill="#1a1a1a" stroke="#1a1a1a" stroke-width="0.28" text-anchor="end" transform="translate(42.3,400.96) scale(0.955,1)">80</text>
<text x="0" y="0" font-size="9.2" fill="#1a1a1a" stroke="#1a1a1a" stroke-width="0.28" text-anchor="end" transform="translate(42.3,379.8) scale(0.955,1)">100</text>
<text x="0" y="0" font-size="9.2" fill="#1a1a1a" stroke="#1a1a1a" stroke-width="0.28" text-anchor="end" transform="translate(42.3,358.64) scale(0.955,1)">120</text>
<text x="0" y="0" font-size="9.2" fill="#1a1a1a" stroke="#1a1a1a" stroke-width="0.28" text-anchor="middle" transform="translate(50.1,496.9) scale(0.955,1)">0</text>
<text x="0" y="0" font-size="9.2" fill="#1a1a1a" stroke="#1a1a1a" stroke-width="0.28" text-anchor="middle" transform="translate(100.95,496.9) scale(0.955,1)">5</text>
<text x="0" y="0" font-size="9.2" fill="#1a1a1a" stroke="#1a1a1a" stroke-width="0.28" text-anchor="middle" transform="translate(151.8,496.9) scale(0.955,1)">10</text>
<text x="0" y="0" font-size="9.2" fill="#1a1a1a" stroke="#1a1a1a" stroke-width="0.28" text-anchor="middle" transform="translate(202.65,496.9) scale(0.955,1)">15</text>
<text x="0" y="0" font-size="9.2" fill="#1a1a1a" stroke="#1a1a1a" stroke-width="0.28" text-anchor="middle" transform="translate(253.5,496.9) scale(0.955,1)">20</text>
<text x="78.9" y="510" font-size="9.4" font-weight="bold" fill="#1a1a1a" stroke="#1a1a1a" stroke-width="0.3" text-anchor="start" textLength="121.8">mAb–MMAF conc. (nmol/L)</text>
<text x="0" y="0" font-size="9.5" font-weight="bold" fill="#1a1a1a" stroke="#1a1a1a" stroke-width="0.3" text-anchor="middle" transform="translate(22.7,417) rotate(-90)">Viability (%)</text>
<text x="134.8" y="359.7" font-size="9.3" font-weight="normal" fill="#111" stroke="#111" stroke-width="0.3" text-anchor="start">MDA-MB-231</text>
<text x="134.8" y="371.4" font-size="9.3" font-weight="normal" fill="#111" stroke="#111" stroke-width="0.3" text-anchor="start">MDA-MB-468</text>
<text x="134.8" y="385" font-size="9.3" font-weight="normal" fill="#111" stroke="#111" stroke-width="0.3" text-anchor="start">4T1</text>
<text x="186.2" y="392.5" font-size="9.3" fill="#1c1cc8" stroke="#1c1cc8" stroke-width="0.13">IC<tspan font-size="6.1" dy="3.3" stroke-width="0.05">50</tspan><tspan dx="0.9" dy="-3.3" stroke-width="0.13">= 7.7 µmol/L</tspan></text>
<text x="187.2" y="404.2" font-size="9.3" fill="#f01c1c" stroke="#f01c1c" stroke-width="0.13">IC<tspan font-size="6.1" dy="3.3" stroke-width="0.05">50</tspan><tspan dx="0.9" dy="-3.3" stroke-width="0.13">= 6.9 µmol/L</tspan></text>
<text x="186.2" y="415.6" font-size="9.3" fill="#1e9e30" stroke="#1e9e30" stroke-width="0.13">IC<tspan font-size="6.1" dy="3.3" stroke-width="0.05">50</tspan><tspan dx="0.9" dy="-3.3" stroke-width="0.13">= 13.1 µmol/L</tspan></text>
<text x="0" y="0" font-size="12.5" font-weight="bold" fill="#111" stroke="#111" stroke-width="0.45" transform="translate(267.6,352.8) scale(1,1.08)">F</text>
<text x="0" y="0" font-size="9.2" fill="#1a1a1a" stroke="#1a1a1a" stroke-width="0.28" text-anchor="end" transform="translate(307.3,486.4) scale(0.955,1)">0</text>
<text x="0" y="0" font-size="9.2" fill="#1a1a1a" stroke="#1a1a1a" stroke-width="0.28" text-anchor="end" transform="translate(307.3,465.26) scale(0.955,1)">20</text>
<text x="0" y="0" font-size="9.2" fill="#1a1a1a" stroke="#1a1a1a" stroke-width="0.28" text-anchor="end" transform="translate(307.3,444.12) scale(0.955,1)">40</text>
<text x="0" y="0" font-size="9.2" fill="#1a1a1a" stroke="#1a1a1a" stroke-width="0.28" text-anchor="end" transform="translate(307.3,422.98) scale(0.955,1)">60</text>
<text x="0" y="0" font-size="9.2" fill="#1a1a1a" stroke="#1a1a1a" stroke-width="0.28" text-anchor="end" transform="translate(307.3,401.84) scale(0.955,1)">80</text>
<text x="0" y="0" font-size="9.2" fill="#1a1a1a" stroke="#1a1a1a" stroke-width="0.28" text-anchor="end" transform="translate(307.3,380.7) scale(0.955,1)">100</text>
<text x="0" y="0" font-size="9.2" fill="#1a1a1a" stroke="#1a1a1a" stroke-width="0.28" text-anchor="end" transform="translate(307.3,359.56) scale(0.955,1)">120</text>
<text x="0" y="0" font-size="9.2" fill="#1a1a1a" stroke="#1a1a1a" stroke-width="0.28" text-anchor="middle" transform="translate(314.9,496.7) scale(0.955,1)">0</text>
<text x="0" y="0" font-size="9.2" fill="#1a1a1a" stroke="#1a1a1a" stroke-width="0.28" text-anchor="middle" transform="translate(381.5,496.7) scale(0.955,1)">100</text>
<text x="0" y="0" font-size="9.2" fill="#1a1a1a" stroke="#1a1a1a" stroke-width="0.28" text-anchor="middle" transform="translate(446.7,496.7) scale(0.955,1)">200</text>
<text x="0" y="0" font-size="9.2" fill="#1a1a1a" stroke="#1a1a1a" stroke-width="0.28" text-anchor="middle" transform="translate(512.7,496.7) scale(0.955,1)">300</text>
<text x="343.9" y="510.2" font-size="9.4" font-weight="bold" fill="#1a1a1a" stroke="#1a1a1a" stroke-width="0.3" text-anchor="start" textLength="121.7">mAb–MMAF conc. (nmol/L)</text>
<text x="0" y="0" font-size="9.5" font-weight="bold" fill="#1a1a1a" stroke="#1a1a1a" stroke-width="0.3" text-anchor="middle" transform="translate(287,417.2) rotate(-90)">Viability (%)</text>
<text x="406.9" y="364.7" font-size="9.3" font-weight="normal" fill="#111" stroke="#111" stroke-width="0.3" text-anchor="start">MDA-MB-231</text>
<text x="406.9" y="380.4" font-size="9.3" font-weight="normal" fill="#111" stroke="#111" stroke-width="0.3" text-anchor="start">MDA-MB-468</text>
<text x="406.9" y="395.7" font-size="9.3" font-weight="normal" fill="#111" stroke="#111" stroke-width="0.3" text-anchor="start">4T1</text>
<text x="392.1" y="412.1" font-size="9.3" fill="#1c1cc8" stroke="#1c1cc8" stroke-width="0.13">IC<tspan font-size="6.1" dy="3.3" stroke-width="0.05">50</tspan><tspan dx="0.9" dy="-3.3" stroke-width="0.13">= 18.8 nmol/L</tspan></text>
<text x="393.5" y="423.7" font-size="9.3" fill="#f01c1c" stroke="#f01c1c" stroke-width="0.13">IC<tspan font-size="6.1" dy="3.3" stroke-width="0.05">50</tspan><tspan dx="0.9" dy="-3.3" stroke-width="0.13">= 16.9 nmol/L</tspan></text>
<text x="393.5" y="435.8" font-size="9.3" fill="#1e9e30" stroke="#1e9e30" stroke-width="0.13">IC<tspan font-size="6.1" dy="3.3" stroke-width="0.05">50</tspan><tspan dx="0.9" dy="-3.3" stroke-width="0.13">= 40.8 nmol/L</tspan></text>
</svg>
</body></html>
